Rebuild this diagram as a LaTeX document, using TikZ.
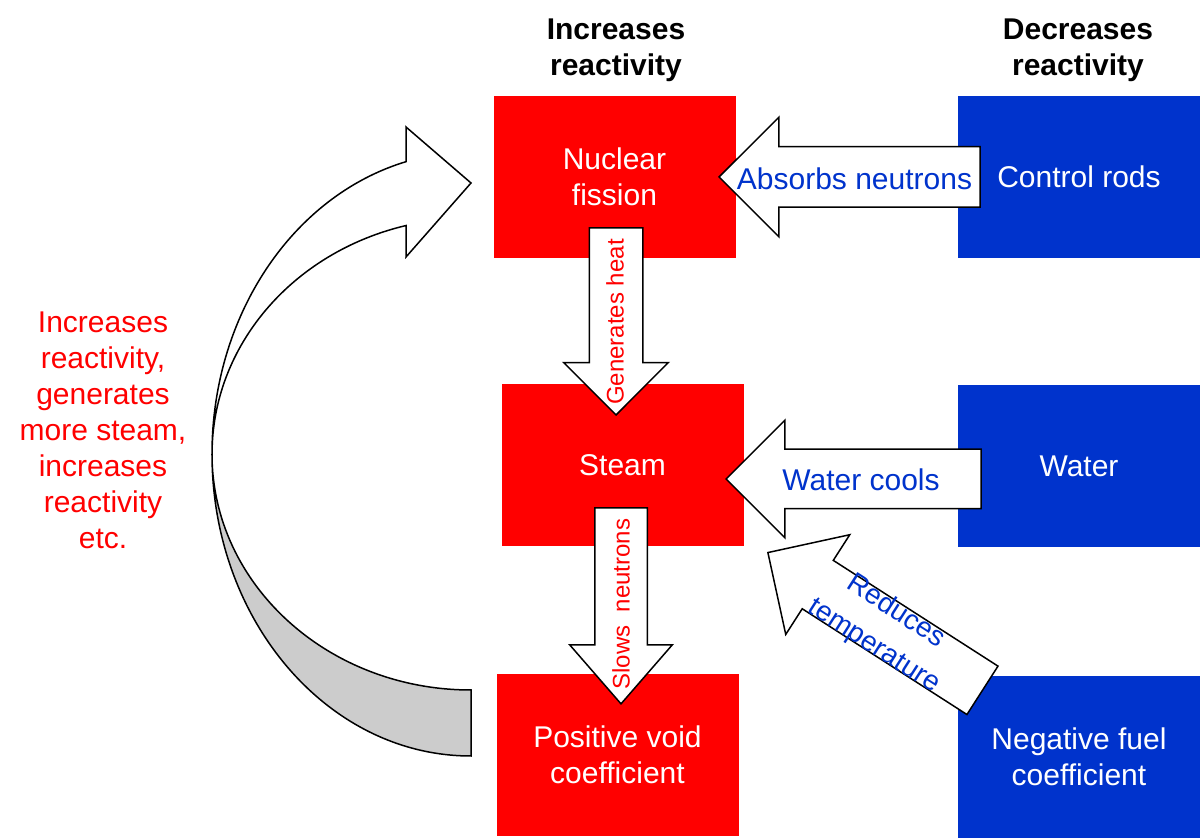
\documentclass[tikz,border=0pt]{standalone}
\usepackage{fontspec}
\setmainfont{Liberation Sans}
\usetikzlibrary{shapes.arrows}
\definecolor{incred}{RGB}{255,0,0}
\definecolor{decblue}{RGB}{0,51,204}
\definecolor{backgrey}{RGB}{204,204,204}
\newcommand\bigtxt{\fontsize{30}{36}\selectfont}
\newcommand\midtxt{\fontsize{28}{36}\selectfont}
\newcommand\smalltxt{\fontsize{24}{28.8}\selectfont}
\tikzset{
	box/.style={rectangle,minimum width=242pt,minimum height=162pt,inner sep=0pt,
		align=center,text=white,font=\bigtxt},
	inc box/.style={box,fill=incred},
	dec box/.style={box,fill=decblue},
	flow/.style={single arrow,draw=black,fill=white,line width=1.5pt,inner xsep=0pt,
		single arrow tip angle=90,anchor=tip},
	flow label/.style={inner sep=0pt,align=center},
	ribbon front/.style={draw=black,fill=white,line width=1.5pt},
	ribbon back/.style={draw=black,fill=backgrey,line width=1.5pt}
}
\begin{document}
\begin{tikzpicture}[x=1pt,y=1pt]
	\useasboundingbox (0,0) rectangle (1200,838);
	% column headers
	\node [align=center,font=\bigtxt\bfseries] (inc head) at (616,788) {Increases\\reactivity};
	\node [align=center,font=\bigtxt\bfseries] (dec head) at (1078,788) {Decreases\\reactivity};
	% boxes
	\node [inc box] (fission) at (614.5,661) {Nuclear\\fission};
	\node [inc box] (steam) at (622.5,373) {Steam};
	\node [inc box] (void) at (617.5,83) {Positive void\\coefficient};
	\node [dec box] (rods) at (1079,661) {Control rods};
	\node [dec box] (water) at (1079,371.5) {Water};
	\node [dec box] (fuel) at (1079,81) {Negative fuel\\coefficient};
	% block arrows
	\node [flow,rotate=180,minimum height=261pt,inner ysep=29.5pt,single arrow head extend=29.5pt] (absorb) at (718,661) {};
	\node [flow,rotate=180,minimum height=255pt,inner ysep=29pt,single arrow head extend=29pt] (cool) at (725,359) {};
	\node [flow,rotate=-90,minimum height=187pt,inner ysep=26pt,single arrow head extend=25.5pt] (heat) at (616,422) {};
	\node [flow,rotate=-90,minimum height=196pt,inner ysep=25.5pt,single arrow head extend=25pt,single arrow tip angle=82] (slow) at (621,133) {};
	\node [flow,rotate=147.3,minimum height=255pt,inner ysep=28pt,single arrow head extend=30.5pt] (reduce) at (767,286) {};
	\node [flow label,text=decblue,font=\bigtxt] at (854.5,659) {Absorbs neutrons};
	\node [flow label,text=decblue,font=\bigtxt] at (861,358.7) {Water cools};
	\node [flow label,text=incred,font=\smalltxt,rotate=90] at (615,516) {Generates heat};
	\node [flow label,text=incred,font=\smalltxt,rotate=90] at (621,234) {Slows\ \ neutrons};
	\node [flow label,text=decblue,font=\midtxt,rotate=-32.7] at (885,209) {Reduces\\[5pt]temperature};
	% feedback loop
	\coordinate (loopc) at (471,384);
	\filldraw [ribbon back] (loopc) ++(-259,0) arc [start angle=180,end angle=270,x radius=259,y radius=302]
		-- ++(0,66) arc [start angle=270,end angle=180,x radius=259,y radius=236] -- cycle;
	\filldraw [ribbon front] (loopc) ++(-259,0) arc [start angle=180,end angle=104.5,x radius=259,y radius=302]
		-- (406,711) -- (471,655) -- (406,581) -- (406.2,612.5)
		arc [start angle=104.5,end angle=180,x radius=259,y radius=236] -- cycle;
	\node [align=center,text=incred,font=\bigtxt] (loop text) at (103,408)
		{Increases\\reactivity,\\generates\\more steam,\\increases\\reactivity\\etc.};
\end{tikzpicture}
\end{document}
